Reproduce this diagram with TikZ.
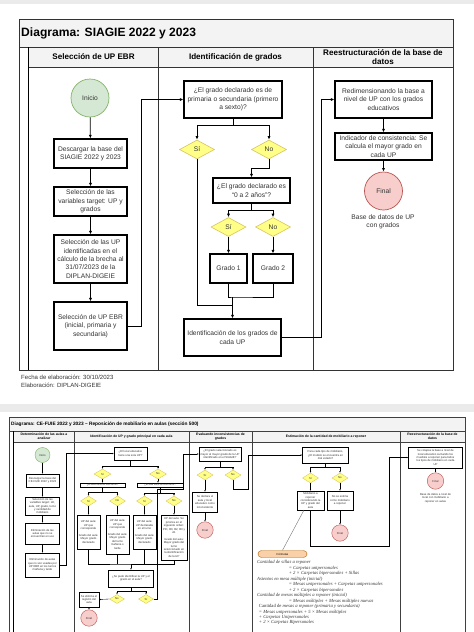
\documentclass[tikz,border=0pt]{standalone}
\usepackage{fontspec}
\setmainfont{Liberation Sans}
\newfontfamily\formfont{Liberation Serif}
\usetikzlibrary{shapes.geometric,arrows.meta}
\definecolor{bandgray}{HTML}{EBEBEB}
\definecolor{hdrgray}{HTML}{F3F3F3}
\definecolor{inifill}{HTML}{D5E8D4}
\definecolor{inidraw}{HTML}{82B366}
\definecolor{finfill}{HTML}{F8CECC}
\definecolor{findraw}{HTML}{B85450}
\definecolor{diafill}{HTML}{FFFF88}
\definecolor{diadraw}{HTML}{D6C35A}
\definecolor{fmlfill}{HTML}{FAD0A8}
\definecolor{fmldraw}{HTML}{B46504}
\definecolor{txtgray}{HTML}{333333}

\begin{document}
\begin{tikzpicture}[x=0.03cm,y=-0.03cm,>={Latex[length=3pt,width=2.6pt]},
  sz/.style 2 args={minimum width=#1*0.03cm,minimum height=#2*0.03cm},
  box/.style={draw,line width=1pt,fill=white,text=txtgray,align=center,inner sep=0pt,font=\fontsize{5.7}{7.1}\selectfont},
  dia/.style={diamond,draw=diadraw,fill=diafill,text=txtgray,line width=0.5pt,inner sep=0pt,font=\fontsize{5.7}{7}\selectfont},
  ini/.style={circle,draw=inidraw,fill=inifill,text=txtgray,line width=0.6pt,inner sep=0pt,font=\fontsize{5.7}{7}\selectfont},
  fin/.style={circle,draw=findraw,fill=finfill,text=txtgray,line width=0.6pt,inner sep=0pt,font=\fontsize{5.7}{7}\selectfont},
  wire/.style={line width=0.6pt},
  lane/.style={line width=0.7pt,draw=black!80},
  hdr/.style={align=center,inner sep=0pt,font=\bfseries\fontsize{6.9}{7.6}\selectfont},
  sbox/.style={draw,line width=0.35pt,fill=white,text=txtgray,align=center,inner sep=0pt,font=\fontsize{2.4}{2.9}\selectfont},
  sdia/.style={diamond,draw=diadraw,fill=diafill,text=txtgray,line width=0.3pt,inner sep=0pt,font=\fontsize{2.4}{2.9}\selectfont},
  sini/.style={circle,draw=inidraw,fill=inifill,text=txtgray,line width=0.35pt,inner sep=0pt,font=\fontsize{2.4}{2.9}\selectfont},
  sfin/.style={circle,draw=findraw,fill=finfill,text=txtgray,line width=0.35pt,inner sep=0pt,font=\fontsize{2.4}{2.9}\selectfont},
  swire/.style={line width=0.3pt,>={Latex[length=1.4pt,width=1.2pt]}},
  slane/.style={line width=0.4pt,draw=black!75},
  shdr/.style={align=center,inner sep=0pt,font=\bfseries\fontsize{2.9}{3.3}\selectfont}]
\useasboundingbox (0,0) rectangle (474,632);
\fill[bandgray] (0,0) rectangle (474,4);
\fill[bandgray] (0,404) rectangle (474,412);

\fill[hdrgray] (19,19) rectangle (453,47);
\fill[hdrgray] (29,47) rectangle (453,67);
\draw[lane] (19,19) rectangle (453,370);
\draw[lane] (19,47) -- (453,47);
\draw[lane] (29,67) -- (453,67);
\draw[line width=1.1pt] (28.5,47) -- (28.5,370);
\draw[lane] (158,47) -- (158,370);
\draw[lane] (313,47) -- (313,370);
\node[anchor=west,inner sep=0pt,font=\bfseries\fontsize{10.3}{12}\selectfont] (titulo) at (21,33) {Diagrama: SIAGIE 2022 y 2023};
\node[hdr] (h1) at (93.5,57) {Selección de UP EBR};
\node[hdr] (h2) at (235.5,57) {Identificación de grados};
\node[hdr] (h3) at (383,57) {Reestructuración de la base de\\datos};

\node[ini,minimum size=38*0.03cm] (inicio) at (90,98) {Inicio};
\node[box,sz={73}{29}] (descarga) at (90.5,153.5) {Descargar la base del\\SIAGIE 2022 y 2023};
\node[box,sz={73}{29}] (variables) at (90.5,201.5) {Selección de las\\variables target: UP y\\grados};
\node[box,sz={73}{48}] (brecha) at (90.5,259) {Selección de las UP\\identificadas en el\\cálculo de la brecha al\\31/07/2023 de la\\DIPLAN-DIGEIE};
\node[box,sz={73}{48}] (ebr) at (90.5,326) {Selección de UP EBR\\(inicial, primaria y\\secundaria)};
\draw[wire,->] (inicio) -- (descarga);
\draw[wire,->] (descarga) -- (variables);
\draw[wire,->] (variables) -- (brecha);
\draw[wire,->] (brecha) -- (ebr);

\node[box,sz={98}{37}] (preg1) at (233,99.5) {¿El grado declarado es de\\primaria o secundaria (primero\\a sexto)?};
\node[dia,minimum width=35*0.03cm,minimum height=19*0.03cm] (si1) at (197,149.5) {Sí};
\node[dia,minimum width=35*0.03cm,minimum height=19*0.03cm] (no1) at (269,149.5) {No};
\node[box,sz={77}{25}] (preg2) at (251.5,190.5) {¿El grado declarado es\\“0 a 2 años”?};
\node[dia,minimum width=35*0.03cm,minimum height=19*0.03cm] (si2) at (228.5,227) {Sí};
\node[dia,minimum width=35*0.03cm,minimum height=19*0.03cm] (no2) at (273,227) {No};
\node[box,sz={37}{29}] (grado1) at (228.5,268.5) {Grado 1};
\node[box,sz={40}{29}] (grado2) at (273,268.5) {Grado 2};
\node[box,sz={97}{37}] (identif) at (232.5,337.5) {Identificación de los grados de\\cada UP};
\coordinate (c1) at (141,99.5);
\coordinate (b1) at (233,125);
\coordinate (k1) at (269,168);
\coordinate (b2) at (251.5,210);
\coordinate (m1) at (232.5,297);
\coordinate (m2) at (232.5,305);
\coordinate (c2) at (321,99.5);
\draw[wire,->] (ebr.east) -| (c1) -- (preg1.west);
\draw[wire] (preg1.south) -- (b1);
\draw[wire,->] (b1) -| (si1.north);
\draw[wire,->] (b1) -| (no1.north);
\draw[wire,->] (no1.south) -- (k1) -| (preg2.north);
\draw[wire] (preg2.south) -- (b2);
\draw[wire,->] (b2) -| (si2.north);
\draw[wire,->] (b2) -| (no2.north);
\draw[wire,->] (si2) -- (grado1);
\draw[wire,->] (no2) -- (grado2);
\draw[wire] (grado1.south) |- (m1) -| (grado2.south);
\draw[wire] (si1.south) |- (m2);
\draw[wire,->] (m1) -- (identif.north);

\node[box,sz={97}{37}] (redim) at (383.5,99.5) {Redimensionando la base a\\nivel de UP con los grados\\educativos};
\node[box,sz={97}{27}] (indic) at (383.5,146.5) {Indicador de consistencia: Se\\calcula el mayor grado en\\cada UP};
\node[fin,minimum size=38*0.03cm] (final) at (383.5,191) {Final};
\node[align=center,inner sep=0pt,text=txtgray,font=\fontsize{5.7}{7.1}\selectfont] (basefin) at (383,222) {Base de datos de UP\\con grados};
\draw[wire,->] (redim) -- (indic);
\draw[wire,->] (indic) -- (final);
\draw[wire,->] (identif.east) -| (c2) -- (redim.west);

\node[anchor=west,inner sep=0pt,text=txtgray,font=\fontsize{5.15}{6}\selectfont] (fecha) at (21,377.5) {Fecha de elaboración: 30/10/2023};
\node[anchor=west,inner sep=0pt,text=txtgray,font=\fontsize{5.15}{6}\selectfont] (elab) at (21,385.5) {Elaboración: DIPLAN-DIGEIE};

\fill[hdrgray] (9,417) rectangle (465,431);
\fill[hdrgray] (14,431) rectangle (465,442);
\draw[slane] (9,632) -- (9,417) -- (465,417) -- (465,632);
\draw[slane] (9,431) -- (465,431);
\draw[slane] (14,442) -- (465,442);
\draw[line width=0.6pt] (13.8,431) -- (13.8,632);
\foreach \lx in {74,189,252,400} \draw[slane] (\lx,431) -- (\lx,632);
\node[anchor=west,inner sep=0pt,font=\bfseries\fontsize{4.1}{5}\selectfont] (titulo2) at (11,424) {Diagrama: CE-FUIE 2022 y 2023 – Reposición de mobiliario en aulas (sección 500)};
\node[shdr] (g1) at (44,436.5) {Determinación de las aulas a\\analizar};
\node[shdr] (g2) at (131.5,436.5) {Identificación de UP y grado principal en cada aula};
\node[shdr] (g3) at (220.5,436.5) {Evaluando inconsistencias de\\grados};
\node[shdr] (g4) at (326,436.5) {Estimación de la cantidad de mobiliario a reponer};
\node[shdr] (g5) at (432.5,436.5) {Reestructuración de la base de\\datos};

\node[sini,minimum size=15*0.03cm] (inicio2) at (42.5,455) {Inicio};
\node[sbox,sz={33}{13}] (descarga2) at (42.5,480.5) {Descargar la base del\\CE-FUIE 2022 y 2023};
\node[sbox,sz={34}{18}] (variables2) at (42.5,506) {Selección de las\\variables target: LE,\\aula, UP, grado, turno\\y cantidad de\\mobiliario};
\node[sbox,sz={34}{21}] (uso2) at (42.5,533.5) {Eliminación de las\\aulas que no se\\encuentran en uso};
\node[sbox,sz={34}{24}] (turnos2) at (42.5,565) {Eliminación de aulas\\que no son usadas por\\UP EBR en los turnos\\mañana y tarde};
\draw[swire,->] (inicio2) -- (descarga2);
\draw[swire,->] (descarga2) -- (variables2);
\draw[swire,->] (variables2) -- (uso2);
\draw[swire,->] (uso2) -- (turnos2);

\node[sbox,sz={33}{13}] (unaup) at (130.5,453.5) {¿El local educativo\\tiene una sola UP?};
\node[sdia,minimum width=17*0.03cm,minimum height=10*0.03cm] (sia) at (102.5,474) {Sí};
\node[sdia,minimum width=17*0.03cm,minimum height=10*0.03cm] (noa) at (158,474) {No};
\node[sbox,sz={45}{4},font=\fontsize{2.1}{2.4}\selectfont] (turnoa) at (102.5,485) {¿El aula tiene un solo turno?};
\node[sbox,sz={46}{4},font=\fontsize{2.1}{2.4}\selectfont] (turnob) at (160,485) {¿El aula tiene un solo turno?};
\node[sdia,minimum width=16*0.03cm,minimum height=10*0.03cm] (sib) at (88.5,501) {Sí};
\node[sdia,minimum width=16*0.03cm,minimum height=10*0.03cm] (nob) at (117.5,501) {No};
\node[sdia,minimum width=16*0.03cm,minimum height=10*0.03cm] (sic) at (144.5,501) {Sí};
\node[sdia,minimum width=16*0.03cm,minimum height=10*0.03cm] (noc) at (174,501) {No};
\node[sbox,sz={23}{34}] (upa) at (88.5,532) {UP del aula:\\UP que\\corresponde\\[2.9pt]Grado del aula:\\Mayor grado\\declarado};
\node[sbox,sz={23}{39}] (upb) at (117.5,534.5) {UP del aula:\\UP que\\corresponde\\[2.9pt]Grado del aula:\\Mayor grado\\del turno\\mañana o\\tarde};
\node[sbox,sz={23}{34}] (upc) at (144.5,532) {UP del aula:\\UP declarada\\en el turno\\[2.9pt]Grado del aula:\\Mayor grado\\declarado};
\node[sbox,sz={26}{45}] (upd) at (174,537.5) {UP del aula: Se\\prioriza en el\\siguiente orden:\\PIC, B0, B2, B3 y\\A1\\[2.9pt]Grado del aula:\\Mayor grado del\\turno\\seleccionado en\\la identificación\\de la UP};
\node[sbox,sz={45}{17}] (sepudo) at (131,578.5) {¿Se pudo identificar la UP y el\\grado en el aula?};
\node[sdia,minimum width=15*0.03cm,minimum height=9*0.03cm] (noe) at (117,599) {No};
\node[sdia,minimum width=15*0.03cm,minimum height=9*0.03cm] (sie) at (146,599) {Sí};
\node[sbox,sz={20}{15}] (elimina) at (89,599.5) {Se elimina el\\registro del\\aula};
\node[sfin,minimum size=16.5*0.03cm] (final2) at (89,618) {Final};
\coordinate (d1) at (66,453.5);
\coordinate (d2) at (130.5,466.5);
\coordinate (d3) at (102.5,492);
\coordinate (d4) at (160,493);
\coordinate (d5) at (131,564);
\coordinate (d6) at (131,591);
\coordinate (d7) at (157,489.5);
\coordinate (d8) at (183,489.5);
\draw[swire,->] (turnos2.east) -| (d1) -- (unaup.west);
\draw[swire] (unaup.south) -- (d2);
\draw[swire,->] (d2) -| (sia.north);
\draw[swire,->] (d2) -| (noa.north);
\draw[swire,->] (sia) -- (turnoa);
\draw[swire,->] (noa.south) -- (noa.south |- turnob.north);
\draw[swire] (turnoa.south) -- (d3);
\draw[swire,->] (d3) -| (sib.north);
\draw[swire,->] (d3) -| (nob.north);
\draw[swire] (turnob.south) -- (d4);
\draw[swire,->] (d4) -| (sic.north);
\draw[swire,->] (d4) -| (noc.north);
\draw[swire,->] (sib) -- (upa);
\draw[swire,->] (nob) -- (upb);
\draw[swire,->] (sic) -- (upc);
\draw[swire,->] (noc) -- (upd);
\draw[swire] (upa.south) |- (d5) -| (upc.south);
\draw[swire] (upb.south) -- (upb.south |- d5);
\draw[swire] (upd.south) |- (d5);
\draw[swire,->] (d5) -- (sepudo.north);
\draw[swire] (sepudo.south) -- (d6);
\draw[swire,->] (d6) -| (noe.north);
\draw[swire,->] (d6) -| (sie.north);
\draw[swire,->] (noe.west) -- (elimina.east);
\draw[swire,->] (elimina) -- (final2);

\node[sbox,sz={42}{14}] (mayor) at (220,454) {¿El grado seleccionado es\\mayor al mayor grado de la UP\\identificado en el SIAGIE?};
\node[sdia,minimum width=16*0.03cm,minimum height=10*0.03cm] (sif) at (205,475) {Sí};
\node[sdia,minimum width=16*0.03cm,minimum height=10*0.03cm] (nof) at (233,475) {No};
\node[sbox,sz={25}{20}] (incons) at (205,502) {Se declara el\\aula y local\\educativo como\\inconsistente};
\node[sfin,minimum size=16.5*0.03cm] (final3) at (205,530) {Final};
\coordinate (e1) at (220,467);
\coordinate (e2) at (248,489);
\draw[swire,->] (sie.east) -| (d7) -- (d8) |- (mayor.west);
\draw[swire] (mayor.south) -- (e1);
\draw[swire,->] (e1) -| (sif.north);
\draw[swire,->] (e1) -| (nof.north);
\draw[swire,->] (sif) -- (incons);
\draw[swire,->] (incons) -- (final3);

\node[sbox,sz={46}{16}] (tipo) at (325.5,455) {Para cada tipo de mobiliario,\\¿El modelo se encuentra en\\mal estado?};
\node[sdia,minimum width=16*0.03cm,minimum height=10*0.03cm] (sig) at (310.5,478) {Sí};
\node[sdia,minimum width=16*0.03cm,minimum height=10*0.03cm] (nog) at (340,478) {No};
\node[sbox,sz={27}{19}] (mobil) at (310.5,500.5) {Mobiliario a\\reponer\\considerando la\\UP y grado del\\aula};
\node[sbox,sz={26}{19}] (noest) at (340,500.5) {No se estima\\como mobiliario\\a reponer};
\node[sfin,minimum size=16.5*0.03cm] (final4) at (340,533) {Final};
\node[draw=fmldraw,fill=fmlfill,rounded corners=3pt,line width=0.35pt,inner sep=0pt,sz={49}{7},font=\fontsize{2.4}{2.9}\selectfont] (formulas) at (282.5,554) {Fórmulas};
\coordinate (f0) at (325.5,467);
\coordinate (f2) at (310.5,546);
\coordinate (f3) at (389,457.5);
\coordinate (f4) at (304,510);
\draw[swire,->] (nof.south) |- (e2) |- (tipo.west);
\draw[swire] (tipo.south) -- (f0);
\draw[swire,->] (f0) -| (sig.north);
\draw[swire,->] (f0) -| (nog.north);
\draw[swire,->] (sig) -- (mobil);
\draw[swire,->] (nog) -- (noest);
\draw[swire,->] (noest) -- (final4);
\draw[line width=0.3pt,black!60] (f4) -- (formulas.north);
\node[anchor=north west,align=left,inner sep=0pt,text=txtgray,font=\formfont\itshape\fontsize{4}{4.65}\selectfont] (calculo) at (257,560.5) {Cantidad de sillas a reponer\\
\hspace*{27pt}= Carpetas unipersonales\\
\hspace*{27pt}+ 2 × Carpetas bipersonales + Sillas\\
Asientos en mesa múltiple (inicial)\\
\hspace*{27pt}= Mesas unipersonales + Carpetas unipersonales\\
\hspace*{27pt}+ 2 × Carpetas bipersonales\\
Cantidad de mesas múltiples a reponer (inicial)\\
\hspace*{27pt}= Mesas múltiples + Mesas múltiples nuevas\\
\hspace*{1.5pt}{\upshape Cantidad de} mesas a reponer (primaria y secundaria)\\
\hspace*{1.5pt}= Mesas unipersonales + 5 × Mesas múltiples\\
\hspace*{1.5pt}+ Carpetas Unipersonales\\
\hspace*{1.5pt}+ 2 × Carpetas Bipersonales};

\node[sbox,sz={54}{21}] (colapsa) at (435.5,457.5) {Se colapsa la base a nivel de\\local educativo sumando los\\muebles a reponer para todos\\los tipos de mobiliario en cada\\UP};
\node[sfin,minimum size=16.5*0.03cm] (final5) at (435.5,481) {Final};
\node[align=center,inner sep=0pt,text=txtgray,font=\fontsize{2.4}{2.9}\selectfont] (basefin2) at (435.5,498) {Base de datos a nivel de\\local con mobiliario a\\reponer en aulas};
\draw[swire,->] (mobil.south) |- (f2) -| (f3) -- (colapsa.west);
\draw[swire,->] (colapsa) -- (final5);
\end{tikzpicture}
\end{document}
